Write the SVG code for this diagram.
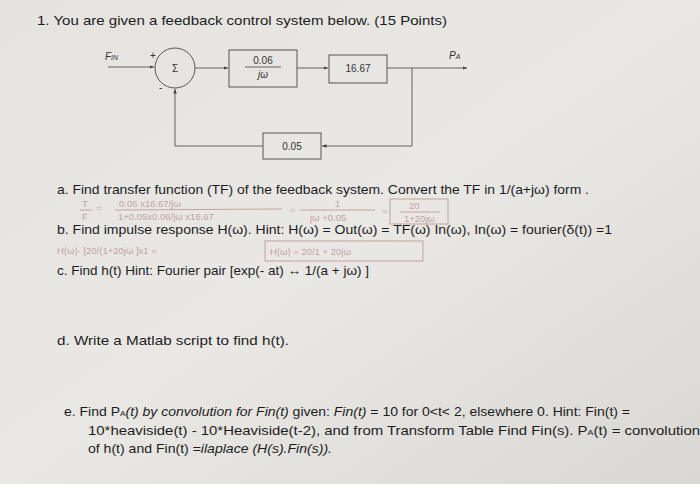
<svg xmlns="http://www.w3.org/2000/svg" width="700" height="484" viewBox="0 0 700 484">
<defs>
<linearGradient id="bg" x1="0" y1="0" x2="1" y2="1">
<stop offset="0" stop-color="#e4e3e0"/><stop offset="0.5" stop-color="#e9e8e5"/><stop offset="1" stop-color="#d9d8d4"/>
</linearGradient>
<marker id="ar" markerWidth="6" markerHeight="6" refX="5" refY="3" orient="auto"><path d="M0,1 L5,3 L0,5 z" fill="#444"/></marker>
<style>
.t{font-family:"Liberation Sans",Arial,sans-serif;font-size:13.5px;fill:#1c1c1c}
.d{font-family:"Liberation Sans",Arial,sans-serif;font-size:10px;fill:#333}
.h{font-family:"Liberation Sans",Arial,sans-serif;font-size:9.5px;fill:#c4a29e}
.b{fill:none;stroke:#555;stroke-width:1}
.l{fill:none;stroke:#555;stroke-width:0.9}
.hb{fill:none;stroke:#c4a29e;stroke-width:1}
</style>
</defs>
<rect width="700" height="484" fill="url(#bg)"/>
<text class="t" x="37" y="25" textLength="410" lengthAdjust="spacingAndGlyphs">1.  You are given a feedback control system below. (15 Points)</text>
<g id="sum"><circle class="b" cx="175" cy="68" r="20"/><text class="d" x="175" y="72" text-anchor="middle" font-size="12">Σ</text>
<text class="d" x="150" y="59">+</text><text class="d" x="159" y="91">-</text></g>
<g id="fin"><text class="d" x="105" y="60" font-style="italic" font-size="9">F<tspan font-size="7">IN</tspan></text></g>
<g id="g1"><rect class="b" x="229" y="50" width="68" height="37"/><text class="d" x="263" y="64" text-anchor="middle">0.06</text><line class="l" x1="245" y1="67" x2="281" y2="67"/><text class="d" x="263" y="78" text-anchor="middle" font-style="italic">jω</text></g>
<g id="g2"><rect class="b" x="329" y="55" width="58" height="28"/><text class="d" x="358" y="72" text-anchor="middle" font-size="9">16.67</text></g>
<g id="h"><rect class="b" x="263" y="133" width="58" height="26"/><text class="d" x="292" y="150" text-anchor="middle" font-size="9">0.05</text></g>
<g id="pa"><text class="d" x="449" y="59" font-style="italic" font-size="9">P<tspan font-size="7">A</tspan></text></g>
<g id="connectors">
<line class="l" x1="108" y1="67" x2="154" y2="67" marker-end="url(#ar)"/>
<line class="l" x1="195" y1="68" x2="228" y2="68" marker-end="url(#ar)"/>
<line class="l" x1="297" y1="68" x2="328" y2="68" marker-end="url(#ar)"/>
<line class="l" x1="387" y1="68" x2="467" y2="68" marker-end="url(#ar)"/>
<polyline class="l" points="412,68 412,146 322,146" marker-end="url(#ar)"/>
<polyline class="l" points="263,146 175,146 175,89" marker-end="url(#ar)"/>
</g>
<text class="t" x="57" y="194" textLength="532" lengthAdjust="spacingAndGlyphs">a.   Find transfer function (TF) of the feedback system. Convert the TF in 1/(a+jω) form .</text>
<text class="h" x="82" y="207">T</text><line class="hb" x1="80" y1="210" x2="92" y2="210"/><text class="h" x="82" y="220">F</text>
<text class="h" x="96" y="211">=</text>
<text class="h" x="119" y="207">0.06 x16.67/jω</text><line class="hb" x1="115" y1="210" x2="282" y2="209"/>
<text class="h" x="118" y="220">1+0.05x0.06/jω x16.67</text>
<text class="h" x="290" y="213">=</text><text class="h" x="335" y="207">1</text><line class="hb" x1="300" y1="210" x2="375" y2="210"/><text class="h" x="310" y="221">jω +0.05</text>
<text class="h" x="382" y="214">=</text>
<rect class="hb" x="390" y="199" width="58" height="25"/><text class="h" x="409" y="209">20</text><line class="hb" x1="400" y1="212" x2="440" y2="212"/><text class="h" x="404" y="222">1+20jω</text>
<text class="t" x="57" y="234" textLength="555" lengthAdjust="spacingAndGlyphs">b.   Find impulse response H(ω). Hint: H(ω) = Out(ω) = TF(ω) In(ω), In(ω) = fourier(δ(t)) =1</text>
<text class="h" x="57" y="254" font-size="12">H(ω)· [20/(1+20jω ]x1 =</text>
<rect class="hb" x="265" y="241" width="158" height="20"/>
<text class="h" x="270" y="255" font-size="12">H(ω) = 20/1 + 20jω</text>
<text class="t" x="57" y="275" textLength="312" lengthAdjust="spacingAndGlyphs">c.   Find h(t)  Hint: Fourier pair  [exp(- at) ↔ 1/(a + jω) ]</text>
<text class="t" x="57" y="345" textLength="232" lengthAdjust="spacingAndGlyphs">d.   Write a Matlab script to find h(t).</text>
<text class="t" x="64" y="416" textLength="566" lengthAdjust="spacingAndGlyphs">e.   Find P<tspan font-size="8">A</tspan><tspan font-style="italic">(t) by convolution for Fin(t)</tspan> given: <tspan font-style="italic">Fin(t)</tspan> = 10  for 0&lt;t&lt; 2, elsewhere 0.  Hint: Fin(t) =</text>
<text class="t" x="88" y="435" textLength="612" lengthAdjust="spacingAndGlyphs">10*heaviside(t) -  10*Heaviside(t-2),  and from Transform Table Find Fin(s).  P<tspan font-size="8">A</tspan>(t) = convolution</text>
<text class="t" x="88" y="453" textLength="244" lengthAdjust="spacingAndGlyphs">of h(t) and Fin(t) =<tspan font-style="italic">ilaplace (H(s).Fin(s)).</tspan></text>
</svg>
